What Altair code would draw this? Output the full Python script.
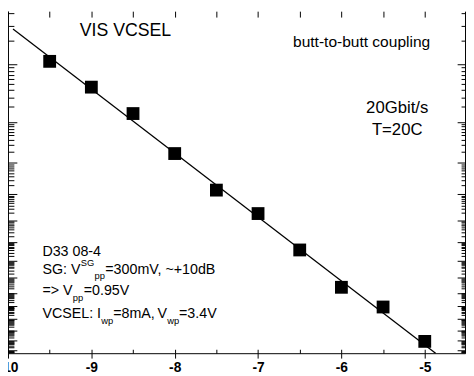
import altair as alt
import numpy as np
import pandas as pd

FONT = "Liberation Sans"

# received optical power (dBm) and -log10(BER) of the measured points
power_dbm = [-9.5, -9.0, -8.5, -8.0, -7.5, -7.0, -6.5, -6.0, -5.5, -5.0]
neg_log_ber = [1.96, 2.35, 2.83, 3.75, 4.85, 5.72, 7.39, 9.61, 11.04, 14.06]

# linear fit (end points)
fit_power = [-9.94, -4.87]
fit_neg_log_ber = [1.56, 15.28]

# axis tick values
x_major = [-10, -9, -8, -7, -6, -5]
x_half = [-10, -9.5, -9, -8.5, -8, -7.5, -7, -6.5, -6, -5.5, -5]
y_decades = list(range(2, 16))

Y_LO, Y_HI = 1.377, 15.28
y_minor = [m - np.log10(k) for m in range(2, 17) for k in range(2, 10)]
y_minor = [float(v) for v in y_minor if Y_LO <= v <= Y_HI]

W, H = 465, 348

pts = pd.DataFrame({"power": power_dbm, "nlb": neg_log_ber})
fit = pd.DataFrame({"power": fit_power, "nlb": fit_neg_log_ber})

xscale = alt.Scale(domain=[-10, -4.517], nice=False, zero=False)
yscale = alt.Scale(type="log", domain=[Y_LO, Y_HI], reverse=True, nice=False)

common = dict(grid=False, title=None, tickColor="black", domainColor="black",
              tickWidth=1, domainWidth=1)


def X(axis):
    return alt.X("power:Q", scale=xscale, axis=axis)


def Y(axis):
    return alt.Y("nlb:Q", scale=yscale, axis=axis)


xa_bottom = alt.Axis(orient="bottom", values=x_major, tickSize=5, labels=True,
                     labelExpr="datum.value < 0 ? '-' + abs(datum.value) : '' + datum.value",
                     labelFont=FONT, labelFontSize=14, labelFontWeight="bold",
                     labelColor="black", labelPadding=3, labelFlush=False,
                     domain=True, **common)
xa_bottom_in = alt.Axis(orient="top", offset=-H, values=x_half, tickSize=4,
                        labels=False, domain=False, **common)
xa_top_in = alt.Axis(orient="bottom", offset=-H, values=x_half, tickSize=6,
                     labels=False, domain=False, **common)
ya_left_minor = alt.Axis(orient="right", offset=-W, values=y_minor, tickSize=6,
                         labels=False, domain=True, **common)
ya_left_major = alt.Axis(orient="right", offset=-W, values=y_decades, tickSize=9,
                         labels=False, domain=False, **common)
ya_right_minor = alt.Axis(orient="left", offset=-W, values=y_minor, tickSize=4,
                          labels=False, domain=True, **common)
ya_right_major = alt.Axis(orient="left", offset=-W, values=y_decades, tickSize=8,
                          labels=False, domain=False, **common)

line = alt.Chart(fit).mark_line(color="black", strokeWidth=1.3).encode(
    x=X(xa_bottom), y=Y(ya_left_minor))
points = alt.Chart(pts).mark_square(size=170, color="black", opacity=1).encode(
    x=X(xa_bottom_in), y=Y(ya_right_minor))
carrier1 = alt.Chart(pts).mark_point(opacity=0).encode(
    x=X(xa_top_in), y=Y(ya_right_major))
carrier2 = alt.Chart(pts).mark_point(opacity=0).encode(
    x=X(None), y=Y(ya_left_major))


def label(txt, x, y, size, align="left"):
    return alt.Chart(pd.DataFrame({"t": [txt]})).mark_text(
        align=align, baseline="alphabetic", font=FONT, fontSize=size, color="black"
    ).encode(x=alt.value(x - 8), y=alt.value(y - 8), text="t:N")


texts = [
    label("VIS VCSEL", 81, 33, 18),
    label("butt-to-butt coupling", 298, 44, 15.8),
    label("20Gbit/s", 404, 112, 17, "center"),
    label("T=20C", 404, 134, 17, "center"),
    label("D33 08-4", 43, 257, 14.5),
    label("SG: V", 43, 275, 14.5),
    label("SG", 82, 267, 9.5),
    label("pp", 96, 281, 9.5),
    label("=300mV, ~+10dB", 107, 275, 14.5),
    label("=> V", 43, 297, 14.5),
    label("pp", 74, 303, 9.5),
    label("=0.95V", 85, 297, 14.5),
    label("VCSEL: I", 43, 320, 14.5),
    label("wp", 103, 326, 9.5),
    label("=8mA,", 115, 320, 14.5),
    label("V", 160, 320, 14.5),
    label("wp", 170, 326, 9.5),
    label("=3.4V", 182, 320, 14.5),
]

chart = alt.layer(line, points, carrier1, carrier2, *texts).resolve_axis(
    x="independent", y="independent"
).properties(
    width=W, height=H,
    autosize=alt.AutoSizeParams(type="none"),
    padding={"left": 0, "top": 0, "right": 1, "bottom": 22},
    background="white",
).configure_view(stroke=None)

chart.save("out.html", embed_options={"renderer": "svg", "actions": False})
